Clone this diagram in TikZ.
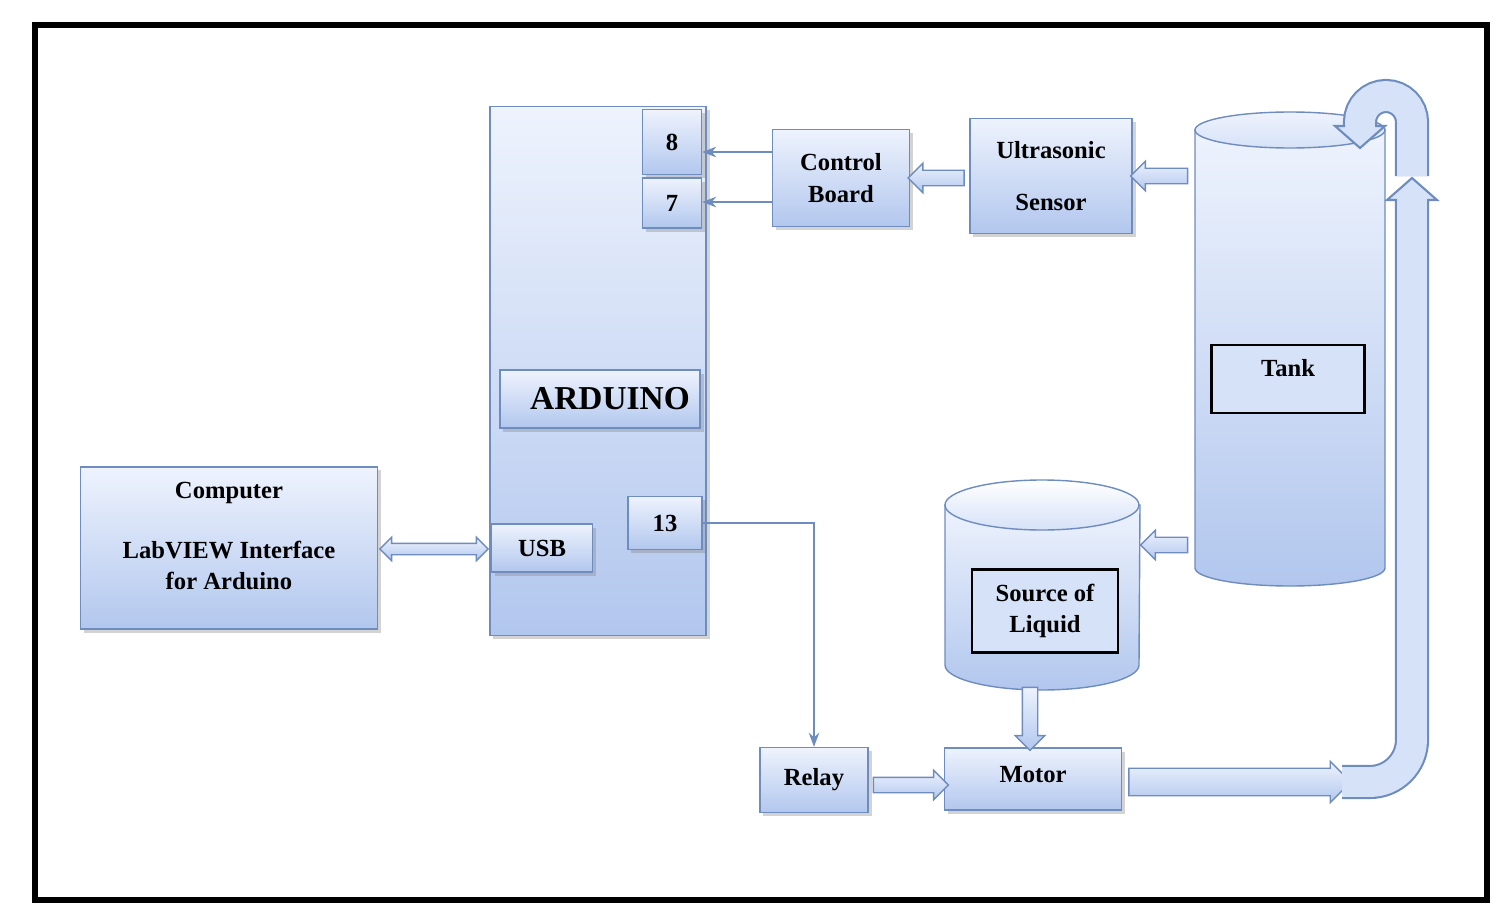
\documentclass[tikz,border=0pt]{standalone}
\usepackage{fontspec}
\setmainfont{Liberation Serif}
\usetikzlibrary{positioning,arrows.meta,shadows,shapes.arrows}

\definecolor{lightsky}{RGB}{238,243,253}
\definecolor{midsky}{RGB}{178,199,238}
\definecolor{edgesky}{RGB}{110,140,190}
\definecolor{pipesky}{RGB}{214,226,248}

\tikzset{
  box/.style={draw=edgesky, top color=lightsky, bottom color=midsky, align=center,
    inner sep=0pt, font=\bfseries\fontsize{7}{9}\selectfont,
    drop shadow={opacity=0.35, shadow xshift=1pt, shadow yshift=-1pt}},
  lbl/.style={draw=black, line width=0.8pt, fill=pipesky, align=center, inner sep=0pt,
    font=\bfseries\fontsize{7}{9}\selectfont},
  blk/.style={single arrow, draw=edgesky, top color=lightsky, bottom color=midsky,
    inner sep=0.07cm, single arrow head extend=0.07cm, single arrow tip angle=90},
  thin arrow/.style={draw=edgesky, -{Stealth[length=4pt]}},
  pipe/.style={draw=edgesky, double=pipesky, double distance=8.5pt, line width=0.6pt}
}
\newcommand{\piptip}[2]{%
  \fill[pipesky, shift={(#1)}, rotate=#2] (0,-25) -- (22,0) -- (0,25) -- cycle;
  \draw[edgesky, line width=0.6pt, shift={(#1)}, rotate=#2]
    (0,-15) -- (0,-25) -- (22,0) -- (0,25) -- (0,15);}

\begin{document}
\begin{tikzpicture}[x=0.01cm, y=-0.01cm]
  \useasboundingbox (0,0) rectangle (1502,921);
  \draw[line width=1.5pt] (35,25) rectangle (1487,900);

  % arduino board
  \node[box, minimum width=2.16cm, minimum height=5.29cm] (ard) at (598,371) {};
  \node[box, minimum width=0.59cm, minimum height=0.65cm] (p8) at (672,142) {8};
  \node[box, minimum width=0.59cm, minimum height=0.50cm] (p7) at (672,203) {7};
  \node[box, minimum width=2.00cm, minimum height=0.58cm, font=\bfseries\fontsize{9.5}{11}\selectfont] (ardl) at (600,399) {\hspace{2mm}ARDUINO};
  \node[box, minimum width=0.74cm, minimum height=0.53cm] (p13) at (665,523) {13};
  \node[box, minimum width=1.01cm, minimum height=0.48cm] (usb) at (542,548) {USB};

  \node[box, minimum width=2.97cm, minimum height=1.62cm] (comp) at (229,548) {};
  \node[font=\bfseries\fontsize{7}{9}\selectfont, align=center] at (229,536)
    {Computer\\[8pt]LabVIEW Interface\\for Arduino};
  \node[box, minimum width=1.37cm, minimum height=0.97cm] (ctrl) at (841,178) {Control\\Board};
  \node[box, minimum width=1.62cm, minimum height=1.15cm] (ultra) at (1051,176) {Ultrasonic\\[6pt]Sensor};
  \node[box, minimum width=1.08cm, minimum height=0.65cm] (relay) at (814,780) {Relay};
  \node[box, minimum width=1.77cm, minimum height=0.62cm] (motor) at (1033,779) {};
  \node[font=\bfseries\fontsize{7}{9}\selectfont] at (1033,775) {Motor};

  % tank
  \shade[top color=lightsky, bottom color=midsky, draw=edgesky]
    (1195,130) -- (1195,568) arc (180:0:95 and 18) -- (1385,130) -- cycle;
  \shade[top color=lightsky, bottom color=pipesky, draw=edgesky] (1290,130) ellipse (95 and 18);
  \node[lbl, minimum width=1.53cm, minimum height=0.68cm] (tank) at (1288,379) {};
  \node[font=\bfseries\fontsize{7}{9}\selectfont] at (1288,368) {Tank};

  % source of liquid
  \shade[top color=lightsky, bottom color=midsky, draw=edgesky]
    (945,505) -- (945,665) arc (180:0:97 and 25) -- (1140,505) -- cycle;
  \shade[top color=white, bottom color=pipesky, draw=edgesky] (1042,505) ellipse (97 and 25);
  \node[lbl, minimum width=1.46cm, minimum height=0.83cm] (src) at (1045,611) {Source of\\Liquid};

  % signals
  \draw[thin arrow] (ctrl.west |- 0,152) -- (p8.east |- 0,152);
  \draw[thin arrow] (ctrl.west |- 0,202) -- (p7.east |- 0,202);
  \draw[thin arrow] (p13.east) -| (relay.north);

  % block arrows
  \node[blk, minimum height=0.57cm, shape border rotate=180] at (1163,176) {};
  \node[blk, minimum height=0.56cm, shape border rotate=180] at (940,178) {};
  \node[blk, minimum height=0.47cm, shape border rotate=180] at (1168,545) {};
  \node[blk, minimum height=0.63cm, shape border rotate=270] at (1030,715) {};
  \node[blk, minimum height=0.75cm] at (907,785) {};
  \node[double arrow, draw=edgesky, top color=lightsky, bottom color=midsky, inner sep=0.05cm,
    double arrow head extend=0.06cm, minimum height=1.08cm] at (434,549) {};
  \node[blk, minimum height=2.22cm, inner sep=0.13cm, single arrow head extend=0.07cm] at (1233,782) {};

  % pipe to tank
  \draw[pipe, rounded corners=12pt] (1342,782) -- (1412,782) -- (1412,200);
  \piptip{1412,200}{90}
  \draw[pipe] (1412,176) -- (1412,122) arc (0:-180:26) -- (1360,126);
  \piptip{1360,126}{-90}
\end{tikzpicture}
\end{document}
